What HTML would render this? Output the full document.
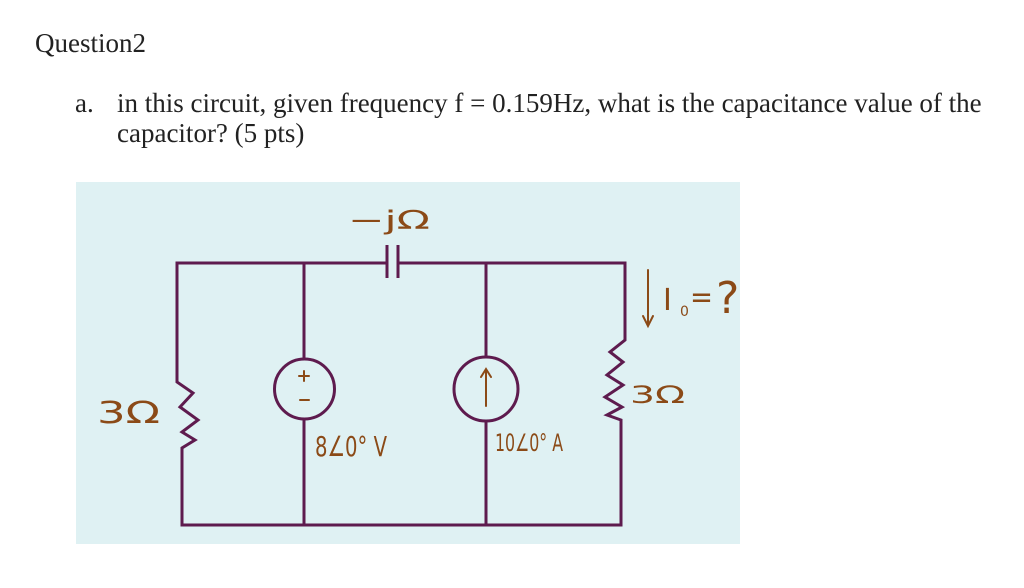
<!DOCTYPE html>
<html><head><meta charset="utf-8"><style>
html,body{margin:0;padding:0;background:#fff;width:1024px;height:588px;overflow:hidden}
.t{position:absolute;font-family:"Liberation Serif",serif;color:#222;white-space:nowrap}
</style></head><body>
<div class="t" style="left:35px;top:27px;font-size:27px;line-height:32px">Question2</div>
<div class="t" style="left:75px;top:88px;font-size:27px;line-height:30px">a.</div>
<div class="t" style="left:117px;top:88px;font-size:27px;line-height:30px">in this circuit, given frequency f = 0.159Hz, what is the capacitance value of the<br>capacitor? (5 pts)</div>
<svg width="1024" height="588" style="position:absolute;left:0;top:0" xmlns="http://www.w3.org/2000/svg">
<rect x="76" y="182" width="664" height="362" fill="#dff1f3"/>
<g fill="none" stroke="#5e1b4e" stroke-width="3" stroke-linejoin="miter" stroke-linecap="square">
<path d="M177,263 H387 M398,263 H625"/>
<path d="M387,245 V278 M398,245 V278" stroke-linecap="butt"/>
<path d="M177,263 V382 L193,393 L180,407 L198,420 L182,432 L195,440 L182,448 V525 H621 V420 L607,415 L622,407 L605,397 L623,385 L607,375 L623,362 L610,352 L625,340 V263"/>
<path d="M304,263 V359 M304,419 V525"/>
<circle cx="304.5" cy="389" r="30"/>
<path d="M486,263 V357 M486,421 V525"/>
<circle cx="486" cy="389" r="32"/>
</g>
<g fill="none" stroke="#8b4a17" stroke-width="2" stroke-linecap="round">
<path d="M486,406 V370 M481,377 L486,369 L491,377"/>
<path d="M304,371 V381 M299,376 H309"/>
<path d="M300,400 H309"/>
<path d="M648,270 V325 M643,316 L648,326 L653,316"/>
</g>
<g fill="#8b4a17" font-family="DejaVu Sans, sans-serif">
<text x="348" y="229" font-size="26" textLength="82" lengthAdjust="spacingAndGlyphs">−jΩ</text>
<text x="97" y="423" font-size="30" textLength="63" lengthAdjust="spacingAndGlyphs">3Ω</text>
<text x="630" y="403" font-size="24" textLength="55" lengthAdjust="spacingAndGlyphs">3Ω</text>
<text x="663" y="310" font-size="30">I</text>
<text x="680" y="316" font-size="14">0</text>
<text x="690" y="307" font-size="30" textLength="23" lengthAdjust="spacingAndGlyphs">=</text>
<text x="716" y="313" font-size="44">?</text>
<text x="315" y="456" font-size="28" textLength="72" lengthAdjust="spacingAndGlyphs">8∠0° V</text>
<text x="495" y="451" font-size="24" textLength="68" lengthAdjust="spacingAndGlyphs">10∠0° A</text>
</g>
</svg>
</body></html>
